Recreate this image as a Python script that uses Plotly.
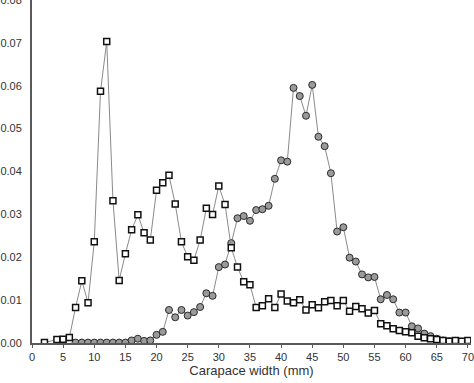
import plotly.graph_objects as go

# Square series (open squares)
sq_x = [2, 4, 5, 6, 7, 8, 9, 10, 11, 12, 13, 14, 15, 16, 17, 18, 19, 20, 21, 22, 23, 24, 25,
        26, 27, 28, 29, 30, 31, 32, 33, 34, 35, 36, 37, 38, 39, 40, 41, 42, 43, 44, 45, 46,
        47, 48, 49, 50, 51, 52, 53, 54, 55, 56, 57, 58, 59, 60, 61, 62, 63, 64, 65, 66, 67,
        68, 69, 70]
sq_y = [0.0001, 0.0008, 0.0009, 0.0013, 0.0083, 0.0145, 0.0094, 0.0236, 0.0587, 0.0703,
        0.0332, 0.0146, 0.0208, 0.0264, 0.0299, 0.0257, 0.0240, 0.0356, 0.0374, 0.0391,
        0.0324, 0.0236, 0.0201, 0.0193, 0.0240, 0.0314, 0.0300, 0.0366, 0.0323, 0.0222,
        0.0177, 0.0143, 0.0136, 0.0083, 0.0087, 0.0103, 0.0083, 0.0114, 0.0098, 0.0094,
        0.0101, 0.0077, 0.0089, 0.0082, 0.0096, 0.0099, 0.0087, 0.0099, 0.0074, 0.0085,
        0.0080, 0.0070, 0.0076, 0.0045, 0.0040, 0.0033, 0.0029, 0.0026, 0.0024, 0.0016,
        0.0012, 0.0010, 0.0008, 0.0006, 0.0004, 0.0006, 0.0004, 0.0006]

# Circle series (grey filled circles)
ci_x = [7, 8, 9, 10, 11, 12, 13, 14, 15, 16, 17, 18, 19, 20, 21, 22, 23, 24, 25, 26, 27, 28,
        29, 30, 31, 32, 33, 34, 35, 36, 37, 38, 39, 40, 41, 42, 43, 44, 45, 46, 47, 48, 49,
        50, 51, 52, 53, 54, 55, 56, 57, 58, 59, 60, 61, 62, 63, 64, 65, 66, 67, 68, 69, 70]
ci_y = [0.0001, 0.0001, 0.0001, 0.0001, 0.0001, 0.0001, 0.0001, 0.0001, 0.0001, 0.0006,
        0.0010, 0.0005, 0.0006, 0.0019, 0.0026, 0.0077, 0.0060, 0.0077, 0.0064, 0.0072,
        0.0084, 0.0116, 0.0110, 0.0177, 0.0183, 0.0233, 0.0291, 0.0296, 0.0285, 0.0310,
        0.0312, 0.0320, 0.0383, 0.0426, 0.0423, 0.0595, 0.0576, 0.0530, 0.0602, 0.0481,
        0.0459, 0.0396, 0.0260, 0.0270, 0.0199, 0.0190, 0.0160, 0.0153, 0.0154, 0.0102,
        0.0112, 0.0102, 0.0071, 0.0071, 0.0039, 0.0034, 0.0022, 0.0016, 0.0010, 0.0006,
        0.0004, 0.0005, 0.0003, 0.0002]

x_ticks = [0, 5, 10, 15, 20, 25, 30, 35, 40, 45, 50, 55, 60, 65, 70]
y_ticks = [0.00, 0.01, 0.02, 0.03, 0.04, 0.05, 0.06, 0.07, 0.08]
x_title = "Carapace width (mm)"

fig = go.Figure()
fig.add_trace(go.Scatter(
    x=ci_x, y=ci_y, mode="lines+markers",
    line=dict(color="#8a8a8a", width=1),
    marker=dict(symbol="circle", size=7, color="#9a9a9a",
                line=dict(color="#2a2a2a", width=1)),
    showlegend=False,
))
fig.add_trace(go.Scatter(
    x=sq_x, y=sq_y, mode="lines+markers",
    line=dict(color="#8a8a8a", width=1),
    marker=dict(symbol="square", size=6, color="white",
                line=dict(color="#111111", width=1.5)),
    showlegend=False,
))

font = "Liberation Sans, Arial, sans-serif"
fig.update_layout(
    width=474, height=383,
    margin=dict(l=32, r=3, t=0, b=40, autoexpand=False),
    paper_bgcolor="white", plot_bgcolor="white",
    font=dict(family=font, size=11, color="#333333"),
    xaxis=dict(
        range=[0, 70.5], tickvals=x_ticks, ticktext=[str(v) for v in x_ticks],
        showgrid=False, zeroline=False, showline=True, linecolor="#5a5a5a", linewidth=1.5,
        ticks="outside", ticklen=3, tickcolor="#5a5a5a", automargin=False,
        ticklabeloverflow="allow",
        title=dict(text=x_title, font=dict(size=13, color="#333333"), standoff=4),
    ),
    yaxis=dict(
        range=[0, 0.08], tickvals=y_ticks, ticktext=["%.2f" % v for v in y_ticks],
        showgrid=False, zeroline=False, showline=True, linecolor="#5a5a5a", linewidth=2,
        ticks="", ticklabelstandoff=6, automargin=False, ticklabeloverflow="allow",
    ),
)

fig.write_html(
    "out.html",
    config={"displayModeBar": False},
    post_script="document.body.style.margin='0';document.body.style.overflow='hidden';",
)
